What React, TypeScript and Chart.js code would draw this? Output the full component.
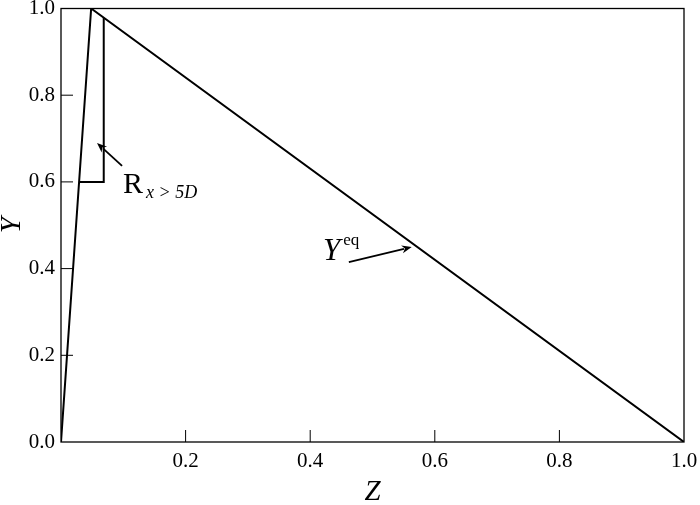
import React, { useEffect, useRef } from "react";
import { Chart, registerables } from "chart.js";

Chart.register(...registerables);

// Equilibrium curve Y^eq (operating triangle)
const eqZ = [0, 0.0484, 1];
const eqY = [0, 1, 0];
// Step R_{x>5D}
const stepZ = [0.029, 0.0686, 0.0686];
const stepY = [0.6, 0.6, 0.9788];
// Ticks
const xTicks = [0, 0.2, 0.4, 0.6, 0.8, 1.0];
const yTicks = [0, 0.2, 0.4, 0.6, 0.8, 1.0];

// Annotation anchors in data coordinates
const rArrow = { from: [0.098, 0.637], to: [0.0578, 0.69] };
const rLabel = [0.0995, 0.574];
const yeqArrow = { from: [0.462, 0.415], to: [0.563, 0.45] };
const yeqLabel = [0.4205, 0.42];

const SERIF = "'Liberation Serif', 'DejaVu Serif', serif";

export default function App() {
  const ref = useRef<HTMLCanvasElement | null>(null);

  useEffect(() => {
    if (!ref.current) return;
    const deco = {
      id: "deco",
      afterDatasetsDraw(chart: any) {
        const ctx = chart.ctx as CanvasRenderingContext2D;
        const a = chart.chartArea;
        const xs = chart.scales.x;
        const ys = chart.scales.y;
        const px = (v: number) => xs.getPixelForValue(v);
        const py = (v: number) => ys.getPixelForValue(v);
        ctx.save();
        ctx.strokeStyle = "#000";
        ctx.lineWidth = 1.3;
        ctx.strokeRect(a.left, a.top, a.right - a.left, a.bottom - a.top);
        ctx.lineWidth = 1;
        ctx.beginPath();
        xTicks.forEach((t) => {
          if (t === 0 || t === 1) return;
          ctx.moveTo(px(t), a.bottom);
          ctx.lineTo(px(t), a.bottom - 12);
        });
        yTicks.forEach((t) => {
          if (t === 0 || t === 1) return;
          ctx.moveTo(a.left, py(t));
          ctx.lineTo(a.left + 12, py(t));
        });
        ctx.stroke();

        const arrow = (f: number[], t: number[]) => {
          const x1 = px(f[0]), y1 = py(f[1]);
          const x2 = px(t[0]), y2 = py(t[1]);
          const ang = Math.atan2(y2 - y1, x2 - x1);
          const hl = 10, hw = 4;
          ctx.lineWidth = 1.8;
          ctx.beginPath();
          ctx.moveTo(x1, y1);
          ctx.lineTo(x2 - Math.cos(ang) * hl * 0.8, y2 - Math.sin(ang) * hl * 0.8);
          ctx.stroke();
          ctx.beginPath();
          ctx.moveTo(x2, y2);
          ctx.lineTo(
            x2 - Math.cos(ang) * hl - Math.sin(ang) * hw,
            y2 - Math.sin(ang) * hl + Math.cos(ang) * hw
          );
          ctx.lineTo(x2 - Math.cos(ang) * hl * 0.7, y2 - Math.sin(ang) * hl * 0.7);
          ctx.lineTo(
            x2 - Math.cos(ang) * hl + Math.sin(ang) * hw,
            y2 - Math.sin(ang) * hl - Math.cos(ang) * hw
          );
          ctx.closePath();
          ctx.fillStyle = "#000";
          ctx.fill();
        };
        arrow(rArrow.from, rArrow.to);
        arrow(yeqArrow.from, yeqArrow.to);

        ctx.fillStyle = "#000";
        ctx.textBaseline = "alphabetic";
        ctx.textAlign = "left";
        // R_{x > 5D}
        const rx = px(rLabel[0]), ry = py(rLabel[1]);
        ctx.font = `30px ${SERIF}`;
        ctx.fillText("R", rx, ry);
        const rw = ctx.measureText("R").width;
        ctx.font = `italic 18px ${SERIF}`;
        ctx.fillText("x > 5D", rx + rw + 3, ry + 5);
        // Y^eq
        const qx = px(yeqLabel[0]), qy = py(yeqLabel[1]);
        ctx.font = `italic 31px ${SERIF}`;
        ctx.fillText("Y", qx, qy);
        const qw = ctx.measureText("Y").width;
        ctx.font = `17px ${SERIF}`;
        ctx.fillText("eq", qx + qw + 3, qy - 15);

        // Axis titles
        ctx.font = `italic 29px ${SERIF}`;
        ctx.textAlign = "center";
        ctx.textBaseline = "middle";
        ctx.fillText("Z", (a.left + a.right) / 2, a.bottom + 50);
        ctx.save();
        ctx.translate(12, (a.top + a.bottom) / 2);
        ctx.rotate(-Math.PI / 2);
        ctx.fillText("Y", 0, 0);
        ctx.restore();
        ctx.restore();
      },
    };

    const chart = new Chart(ref.current, {
      type: "scatter",
      data: {
        datasets: [
          {
            data: eqZ.map((z, i) => ({ x: z, y: eqY[i] })),
            showLine: true,
            borderColor: "#000",
            borderWidth: 2,
            pointRadius: 0,
            fill: false,
          },
          {
            data: stepZ.map((z, i) => ({ x: z, y: stepY[i] })),
            showLine: true,
            borderColor: "#000",
            borderWidth: 2,
            pointRadius: 0,
            fill: false,
          },
        ],
      },
      options: {
        animation: false,
        responsive: false,
        events: [],
        layout: { padding: { left: 0, top: 8.5, right: 16, bottom: 0 } },
        plugins: { legend: { display: false }, tooltip: { enabled: false } },
        scales: {
          x: {
            type: "linear",
            min: 0,
            max: 1,
            afterFit: (s: any) => {
              s.height = 63;
              s.paddingLeft = 0;
              s.paddingRight = 0;
            },
            afterBuildTicks: (s: any) => {
              s.ticks = xTicks.map((v) => ({ value: v }));
            },
            border: { display: false },
            grid: { display: false, drawTicks: false },
            ticks: {
              padding: 7,
              color: "#000",
              font: { family: SERIF, size: 21 },
              maxRotation: 0,
              autoSkip: false,
              callback: (v: any) => (Number(v) === 0 ? "" : Number(v).toFixed(1)),
            },
          },
          y: {
            type: "linear",
            min: 0,
            max: 1,
            afterFit: (s: any) => {
              s.width = 61;
              s.paddingTop = 0;
              s.paddingBottom = 0;
            },
            afterBuildTicks: (s: any) => {
              s.ticks = yTicks.map((v) => ({ value: v }));
            },
            border: { display: false },
            grid: { display: false, drawTicks: false },
            ticks: {
              padding: 6,
              color: "#000",
              font: { family: SERIF, size: 21 },
              autoSkip: false,
              callback: (v: any) => Number(v).toFixed(1),
            },
          },
        },
      },
      plugins: [deco],
    });
    return () => chart.destroy();
  }, []);

  return (
    <div style={{ position: "fixed", left: 0, top: 0, width: 700, height: 505, background: "#fff" }}>
      <canvas ref={ref} width={700} height={505} />
    </div>
  );
}
